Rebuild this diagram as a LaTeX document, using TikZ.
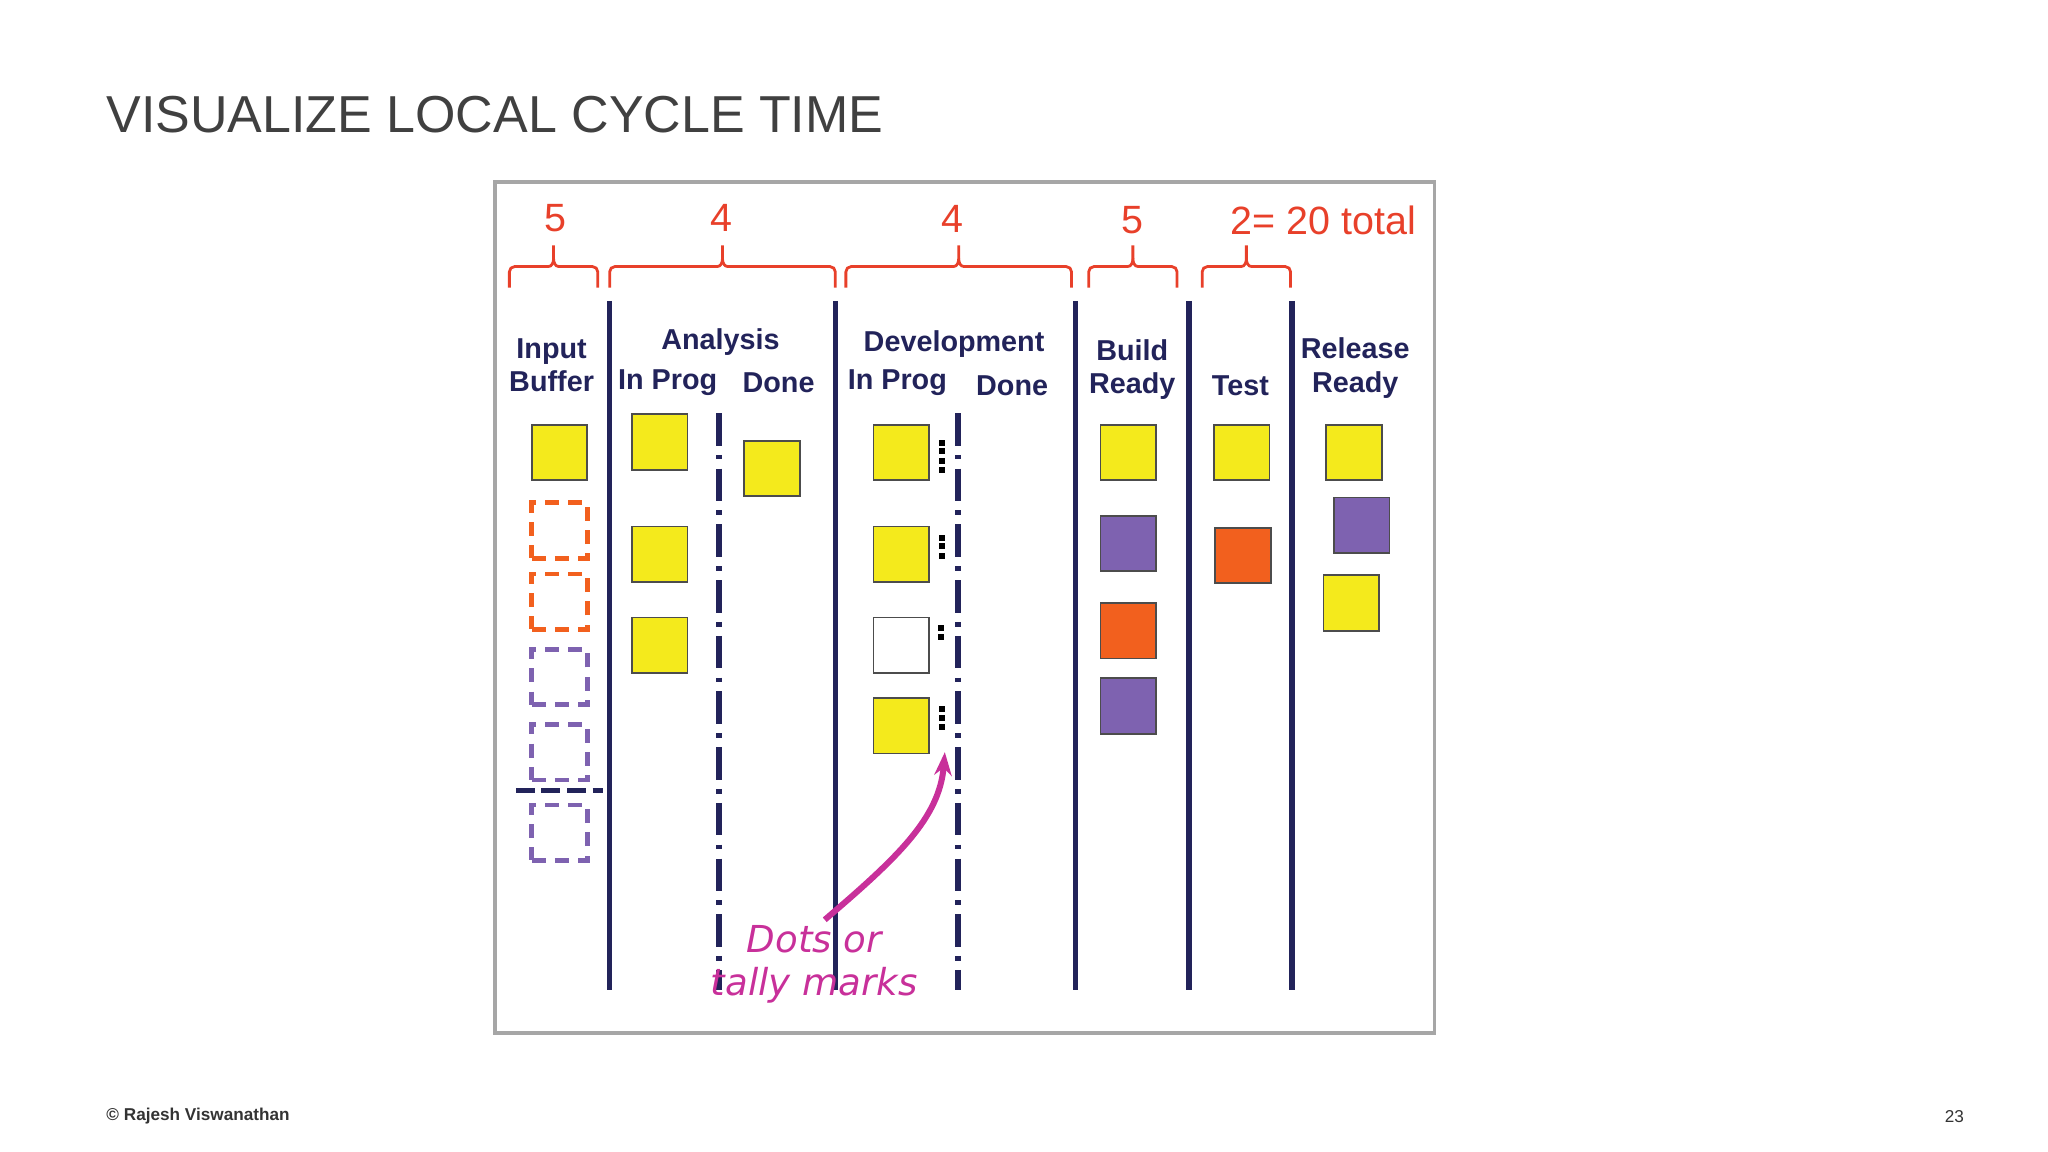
\documentclass[tikz,border=0pt]{standalone}
\usepackage{fontspec}
\usetikzlibrary{arrows.meta}
\setmainfont{Liberation Sans}
\newfontfamily\hand{DejaVu Sans}
\definecolor{navy}{HTML}{22235A}
\definecolor{bred}{HTML}{E8402A}
\definecolor{yel}{HTML}{F4EA1C}
\definecolor{pur}{HTML}{7E62B0}
\definecolor{org}{HTML}{F2601E}
\definecolor{mag}{HTML}{C8309A}
\begin{document}
\begin{tikzpicture}[x=0.01cm,y=-0.01cm,
 sticky/.style={draw=black!70,line width=0.4pt,minimum size=0.42cm,inner sep=0pt},
 dsticky/.style={draw=#1,line width=1pt,minimum size=0.42cm,inner sep=0pt,dash pattern=on 3pt off 2pt},
 hdr/.style={text=navy,font=\fontsize{6.2}{7.2}\selectfont\bfseries,align=center,inner sep=0pt},
 num/.style={text=bred,font=\fontsize{8.5}{10}\selectfont,inner sep=0pt},
 brace/.style={draw=bred,line width=0.6pt},
 col/.style={draw=navy,line width=1.2pt},
 tally/.style={fill=black,minimum size=0.045cm,inner sep=0pt}]
\useasboundingbox (0,0) rectangle (1552,873);
\node[anchor=west,text=black!75,font=\fontsize{11.2}{13}\selectfont,inner sep=0pt] (title) at (80,87) {VISUALIZE LOCAL CYCLE TIME};
\draw[black!35,line width=0.8pt] (375,138) rectangle (1087,783);
% braces
\foreach \a/\b in {386/453,462/633,641/812,825/892,911/978}{
 \pgfmathsetmacro\m{(\a+\b)/2}
 \pgfmathsetmacro\ai{\a+4}
 \pgfmathsetmacro\bi{\b-4}
 \pgfmathsetmacro\ml{\m-4}
 \pgfmathsetmacro\mr{\m+4}
 \draw[brace] (\a,218) -- (\a,206) to[out=90,in=180] (\ai,202) -- (\ml,202) to[out=0,in=-90] (\m,196) -- (\m,186);
 \draw[brace] (\b,218) -- (\b,206) to[out=90,in=0] (\bi,202) -- (\mr,202) to[out=180,in=-90] (\m,196);
}
\node[num] (n1) at (421,165) {5};
\node[num] (n2) at (547,165) {4};
\node[num] (n3) at (722,166) {4};
\node[num] (n4) at (858,167) {5};
\node[num] (n5) at (1003,167) {2= 20 total};
% columns
\foreach \x in {462,633,815,901,979}{\draw[col] (\x,228) -- (\x,750);}
\draw[navy,line width=1.2pt,dash pattern=on 7pt off 2pt on 1pt off 2pt] (545,313) -- (545,750);
\draw[navy,line width=1.2pt,dash pattern=on 7pt off 2pt on 1pt off 2pt] (726,313) -- (726,750);
\draw[navy,line width=1.2pt,dash pattern=on 4pt off 1.5pt] (391,599) -- (457,599);
% headers
\node[hdr] (h1) at (418,277) {Input\\Buffer};
\node[hdr] (h2) at (546,259) {Analysis};
\node[hdr] (h3) at (506,290) {In Prog};
\node[hdr] (h4) at (590,290) {Done};
\node[hdr] (h5) at (723,261) {Development};
\node[hdr] (h6) at (680,290) {In Prog};
\node[hdr] (h7) at (767,292) {Done};
\node[hdr] (h8) at (858,280) {Build\\Ready};
\node[hdr] (h9) at (940,292) {Test};
\node[hdr] (h10) at (1027,279) {Release\\Ready};
% stickies
\node[sticky,fill=yel] (i1) at (424,343) {};
\node[dsticky=org] (i2) at (424,402) {};
\node[dsticky=org] (i3) at (424,456) {};
\node[dsticky=pur] (i4) at (424,513) {};
\node[dsticky=pur] (i5) at (424,570) {};
\node[dsticky=pur] (i6) at (424,631) {};
\node[sticky,fill=yel] (a1) at (500,335) {};
\node[sticky,fill=yel] (a2) at (500,420) {};
\node[sticky,fill=yel] (a3) at (500,489) {};
\node[sticky,fill=yel] (a4) at (585,355) {};
\node[sticky,fill=yel] (d1) at (683,343) {};
\node[sticky,fill=yel] (d2) at (683,420) {};
\node[sticky,fill=white] (d3) at (683,489) {};
\node[sticky,fill=yel] (d4) at (683,550) {};
\node[sticky,fill=yel] (b1) at (855,343) {};
\node[sticky,fill=pur] (b2) at (855,412) {};
\node[sticky,fill=org] (b3) at (855,478) {};
\node[sticky,fill=pur] (b4) at (855,535) {};
\node[sticky,fill=yel] (t1) at (941,343) {};
\node[sticky,fill=org] (t2) at (942,421) {};
\node[sticky,fill=yel] (r1) at (1026,343) {};
\node[sticky,fill=pur] (r2) at (1032,398) {};
\node[sticky,fill=yel] (r3) at (1024,457) {};
% tallies
\foreach \y in {336,342,349,356}{\node[tally] at (714,\y) {};}
\foreach \y in {408,414,421}{\node[tally] at (714,\y) {};}
\foreach \y in {476,483}{\node[tally] at (713,\y) {};}
\foreach \y in {537,544,551}{\node[tally] at (714,\y) {};}
% annotation
\node[text=mag,font=\hand\itshape\fontsize{8}{9.3}\selectfont,align=center,inner sep=0pt] (note) at (617,731) {Dots or\\tally marks};
\coordinate (tip) at (716,570);
\draw[mag,line width=1.3pt,-{Stealth[length=5pt]}] (625,697) .. controls (680,650) and (712,620) .. (tip);
% footer
\node[anchor=west,font=\fontsize{3.7}{4.5}\selectfont\bfseries,text=black!80,inner sep=0pt] (foot) at (80,846) {© Rajesh Viswanathan};
\node[font=\fontsize{3.7}{4.5}\selectfont,text=black!80,inner sep=0pt] (pg) at (1481,846) {23};
\end{tikzpicture}
\end{document}
